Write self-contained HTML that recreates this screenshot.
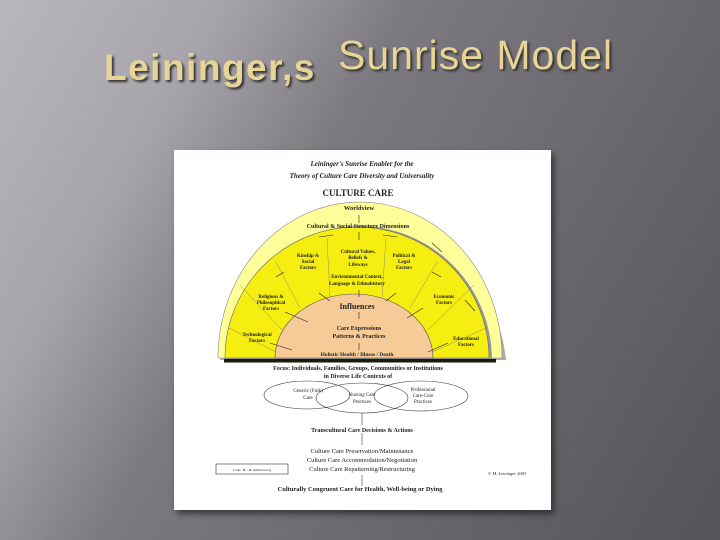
<!DOCTYPE html>
<html><head><style>
html,body{margin:0;padding:0;width:720px;height:540px;overflow:hidden}
body{background:linear-gradient(120deg,#b9b7bd 0%,#a6a4aa 22%,#7c7a80 40%,#68666c 70%,#555358 100%);position:relative;font-family:"Liberation Sans",sans-serif}
.t1{position:absolute;left:104px;top:47px;font-size:37px;font-weight:bold;color:#e6d596;text-shadow:2px 2px 2px #333;letter-spacing:1.5px}
.t2{position:absolute;left:338px;top:32px;font-size:41px;color:#e6d596;text-shadow:2px 2px 2px #333;letter-spacing:1px}
.img{position:absolute;left:174px;top:150px;width:377px;height:360px;background:#fff;box-shadow:3px 4px 6px rgba(0,0,0,.5)}
svg{position:absolute;left:0;top:0}
</style></head><body>
<div class="t1">Leininger,s</div>
<div class="t2">Sunrise Model</div>
<div class="img"></div>
<svg width="720" height="540" font-family="Liberation Serif,serif" font-weight="bold" font-size="6" text-anchor="middle" fill="#222">
<text x="362" y="166" font-style="italic" font-size="7">Leininger's Sunrise Enabler for the</text>
<text x="362" y="178" font-style="italic" font-size="7">Theory of Culture Care Diversity and Universality</text>
<text x="358" y="196" font-size="9">CULTURE CARE</text>
<path d="M220 360 A144 159 0 0 1 506 360 Z" fill="#aaa"/>
<path d="M218 358 A142 156 0 0 1 502 358 Z" fill="#ffff99" stroke="#888" stroke-width="0.6"/>
<path d="M226 360 A133 134 0 0 1 492 360 Z" fill="#999"/>
<path d="M225 358 A132 131 0 0 1 489 358 Z" fill="#f5ee10" stroke="#666" stroke-width="0.6"/>
<path d="M275 358 A79 64 0 0 1 433 358 Z" fill="#f7cb98" stroke="#555" stroke-width="0.6"/>
<rect x="224" y="359" width="272" height="3.5" fill="#1a1a0a"/>
<g stroke="#777" stroke-width="0.4">
<line x1="276" y1="352" x2="229" y2="328"/><line x1="282" y1="330" x2="240" y2="285"/>
<line x1="300" y1="308" x2="276" y2="262"/><line x1="330" y1="297" x2="327" y2="238"/>
<line x1="382" y1="297" x2="386" y2="238"/><line x1="410" y1="308" x2="437" y2="262"/>
<line x1="428" y1="330" x2="474" y2="285"/><line x1="432" y1="352" x2="486" y2="328"/>
</g>
<g stroke="#222" stroke-width="0.6">
<line x1="359" y1="215" x2="359" y2="223"/><line x1="359" y1="232" x2="359" y2="240"/>
<line x1="359" y1="290" x2="359" y2="297"/><line x1="359" y1="312" x2="359" y2="319"/>
<line x1="359" y1="343" x2="359" y2="350"/>
<line x1="319" y1="237" x2="333" y2="235"/><line x1="383" y1="235" x2="397" y2="237"/>
<line x1="276" y1="277" x2="284" y2="272"/><line x1="432" y1="272" x2="441" y2="277"/>
<line x1="319" y1="293" x2="330" y2="301"/><line x1="386" y1="301" x2="396" y2="293"/>
<line x1="285" y1="312" x2="308" y2="322"/><line x1="407" y1="318" x2="423" y2="308"/>
<line x1="270" y1="343" x2="292" y2="350"/><line x1="428" y1="352" x2="448" y2="343"/>
<line x1="465" y1="300" x2="475" y2="311"/><line x1="432" y1="243" x2="442" y2="252"/>
</g>
<text x="359" y="210" font-size="6.5">Worldview</text>
<text x="358" y="228">Cultural &amp; Social Structure Dimensions</text>
<text x="308" y="257" font-size="5">Kinship &amp;</text><text x="308" y="263" font-size="5">Social</text><text x="308" y="269" font-size="5">Factors</text>
<text x="358" y="253" font-size="5">Cultural Values,</text><text x="358" y="259" font-size="5">Beliefs &amp;</text><text x="358" y="266" font-size="5">Lifeways</text>
<text x="404" y="257" font-size="5">Political &amp;</text><text x="404" y="263" font-size="5">Legal</text><text x="404" y="269" font-size="5">Factors</text>
<text x="357" y="278" font-size="5">Environmental Context,</text><text x="357" y="285" font-size="5">Language &amp; Ethnohistory</text>
<text x="271" y="298" font-size="5">Religious &amp;</text><text x="271" y="304" font-size="5">Philosophical</text><text x="271" y="310" font-size="5">Factors</text>
<text x="444" y="298" font-size="5">Economic</text><text x="444" y="304" font-size="5">Factors</text>
<text x="357" y="309" font-size="8">Influences</text>
<text x="359" y="330" font-size="6">Care Expressions</text><text x="359" y="338" font-size="6">Patterns &amp; Practices</text>
<text x="257" y="336" font-size="5">Technological</text><text x="257" y="342" font-size="5">Factors</text>
<text x="466" y="340" font-size="5">Educational</text><text x="466" y="346" font-size="5">Factors</text>
<text x="357" y="356" font-size="5.5">Holistic Health / Illness / Death</text>
<text x="358" y="370" font-size="6">Focus: Individuals, Families, Groups, Communities or Institutions</text>
<text x="358" y="378" font-size="6">in Diverse Life Contexts of</text>
<g fill="none" stroke="#333" stroke-width="0.6">
<ellipse cx="307" cy="395" rx="43" ry="14"/><ellipse cx="362" cy="398" rx="46" ry="15"/><ellipse cx="421" cy="396" rx="47" ry="15"/>
<line x1="362" y1="413" x2="362" y2="425"/><line x1="362" y1="433" x2="362" y2="445"/><line x1="362" y1="475" x2="362" y2="486"/>
<rect x="216" y="464" width="72" height="10"/>
</g>
<g font-weight="normal" font-size="5">
<text x="308" y="392">Generic (Folk)</text><text x="308" y="399">Care</text>
<text x="362" y="396">Nursing Care</text><text x="362" y="403">Practices</text>
<text x="423" y="391">Professional</text><text x="423" y="397">Care-Cure</text><text x="423" y="403">Practices</text>
<text x="252" y="471" font-size="3.5">Code: ◄—► (Influencers)</text>
</g>
<text x="362" y="432" font-size="6">Transcultural Care Decisions &amp; Actions</text>
<g font-weight="normal" font-size="6.5">
<text x="362" y="453">Culture Care Preservation/Maintenance</text>
<text x="362" y="462">Culture Care Accommodation/Negotiation</text>
<text x="362" y="471">Culture Care Repatterning/Restructuring</text>
</g>
<text x="507" y="475" font-weight="normal" font-style="italic" font-size="4.5">© M. Leininger 2003</text>
<text x="360" y="491" font-size="6.5">Culturally Congruent Care for Health, Well-being or Dying</text>
</svg>
</body></html>
